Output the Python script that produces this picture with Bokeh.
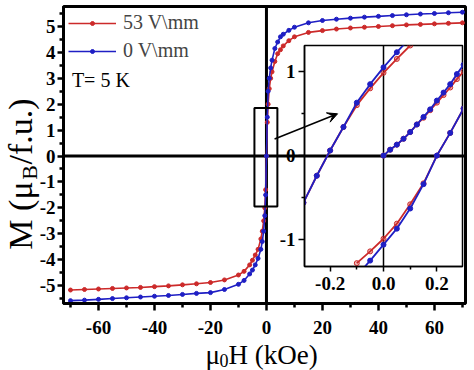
import math
from bokeh.plotting import figure
from bokeh.models import (Range1d, FixedTicker, CustomJSTickFormatter, Span, BoxAnnotation,
                          Arrow, VeeHead, Legend, LegendItem, Label)
from bokeh.embed import file_html
from bokeh.resources import INLINE

# ---------------- data ----------------
field_main = [-70, -65, -60, -55, -50, -45, -40, -35, -30, -25, -20, -15, -10, -8, -6, -5, -4, -3, -2,
              -1.5, -1, -0.6, -0.3, 0, 0.3, 0.6, 1, 1.5, 2, 3, 4, 5, 6, 8, 10, 15, 20, 25, 30, 35,
              40, 45, 50, 55, 60, 65, 70]
m_red_main = [-5.17, -5.15, -5.13, -5.11, -5.09, -5.07, -5.04, -5.01, -4.97, -4.93, -4.88, -4.78,
              -4.59, -4.45, -4.2, -4.02, -3.82, -3.6, -3.2, -2.9, -2.5, -2.0, -1.3, 0.0, 1.3, 2.0,
              2.6, 3.0, 3.25, 3.65, 3.95, 4.1, 4.25, 4.45, 4.6, 4.77, 4.84, 4.9, 4.94, 4.97, 5.0,
              5.03, 5.06, 5.08, 5.1, 5.12, 5.14]
m_blue_main = [-5.58, -5.56, -5.53, -5.5, -5.47, -5.44, -5.41, -5.38, -5.34, -5.3, -5.27, -5.15,
               -4.95, -4.8, -4.55, -4.4, -4.2, -3.95, -3.6, -3.3, -2.9, -2.3, -1.5, 0.0, 1.5, 2.5,
               3.0, 3.4, 3.7, 4.15, 4.4, 4.6, 4.7, 4.85, 4.97, 5.14, 5.23, 5.28, 5.32, 5.36, 5.39,
               5.42, 5.45, 5.48, 5.5, 5.53, 5.55]

# inset (low-field hysteresis)
field_desc = [0.1, 0.05, 0.0, -0.05, -0.1, -0.15, -0.2, -0.25, -0.3]
m_blue_desc = [1.40, 1.23, 1.05, 0.85, 0.63, 0.34, 0.06, -0.24, -0.56]
m_red_desc = [1.31, 1.15, 0.985, 0.80, 0.60, 0.34, 0.06, -0.24, -0.56]
field_asc = [-0.1, -0.05, 0.0, 0.05, 0.1, 0.15, 0.2, 0.25, 0.3]
m_blue_asc = [-1.43, -1.25, -1.06, -0.87, -0.63, -0.34, 0.0, 0.27, 0.56]
m_red_asc = [-1.28, -1.14, -0.99, -0.81, -0.58, -0.33, 0.0, 0.27, 0.56]
field_virgin = [0, 0.025, 0.05, 0.075, 0.1, 0.125, 0.15, 0.175, 0.2, 0.225, 0.25, 0.275, 0.3]
m_blue_virgin = [0, 0.07, 0.13, 0.2, 0.28, 0.37, 0.46, 0.55, 0.655, 0.75, 0.85, 0.97, 1.08]
m_red_virgin = [0, 0.07, 0.13, 0.2, 0.28, 0.37, 0.45, 0.54, 0.63, 0.72, 0.81, 0.91, 1.0]

series_labels = ["53 V\\mm", "0 V\\mm"]
temp_label = "T= 5 K"

main_x_ticks = [-60, -40, -20, 0, 20, 40, 60]
main_x_minor = [-70, -50, -30, -10, 10, 30, 50, 70]
main_y_ticks = [-5, -4, -3, -2, -1, 0, 1, 2, 3, 4, 5]
main_y_minor = [-5.5, -4.5, -3.5, -2.5, -1.5, -0.5, 0.5, 1.5, 2.5, 3.5, 4.5, 5.5]
inset_x_ticks = [-0.2, 0.0, 0.2]
inset_x_minor = [-0.3, -0.1, 0.1, 0.3]
inset_y_ticks = [-1, 0, 1]
inset_y_minor = [-0.5, 0.5]

# zoom box and arrow (data units of the main plot)
zoom_box = dict(left=-4.3, right=3.9, bottom=-1.95, top=1.85)
arrow_from = (2.9, 0.66)
arrow_to = (25.4, 1.63)

RED = "#cc2a2a"
BLUE = "#1f1fc4"
SERIF = "Liberation Serif"

# ---------------- main figure ----------------
p = figure(width=474, height=370, x_range=Range1d(-72.5, 71.1), y_range=Range1d(-5.69, 5.77),
           output_backend="svg", toolbar_location=None,
           min_border_left=63, min_border_right=9, min_border_top=6, min_border_bottom=67)
p.grid.visible = False
p.outline_line_color = "black"
p.outline_line_width = 3
p.background_fill_color = "white"
p.border_fill_color = "white"

def style_axis(ax, ticks, minor, code, lw, tick_out, minor_out, size, tw):
    ax.ticker = FixedTicker(ticks=ticks, minor_ticks=minor)
    ax.formatter = CustomJSTickFormatter(code=code)
    ax.axis_line_width = lw
    ax.major_tick_line_width = tw
    ax.minor_tick_line_width = tw
    ax.major_tick_in = 0
    ax.major_tick_out = tick_out
    ax.minor_tick_in = 0
    ax.minor_tick_out = minor_out
    ax.major_label_text_font = SERIF
    ax.major_label_text_font_style = "bold"
    ax.major_label_text_font_size = size
    ax.major_label_text_color = "black"
    ax.axis_label = None

style_axis(p.xaxis[0], main_x_ticks, main_x_minor, "return tick.toFixed(0);", 3, 7, 4, "19px", 2.5)
style_axis(p.yaxis[0], main_y_ticks, main_y_minor, "return tick.toFixed(0);", 3, 6, 4, "19px", 2.5)
p.xaxis.major_label_standoff = 10
p.yaxis.major_label_standoff = 2

p.add_layout(Span(location=0, dimension="height", line_color="black", line_width=3, level="underlay"))
p.add_layout(Span(location=0, dimension="width", line_color="black", line_width=3, level="underlay"))

lr = p.line(field_main, m_red_main, line_color=RED, line_width=1.6)
sr = p.scatter(field_main, m_red_main, size=4, color=RED)
lb = p.line(field_main, m_blue_main, line_color=BLUE, line_width=1.6)
sb = p.scatter(field_main, m_blue_main, size=4, color=BLUE)

p.add_layout(BoxAnnotation(fill_alpha=0, line_color="black", line_alpha=1, line_width=2, **zoom_box))
p.add_layout(Arrow(end=VeeHead(size=10, fill_color="black", line_color="black", line_width=1),
                   x_start=arrow_from[0], y_start=arrow_from[1],
                   x_end=arrow_to[0], y_end=arrow_to[1], line_width=1.5, line_color="black"))

legend = Legend(items=[LegendItem(label=series_labels[0], renderers=[lr, sr]),
                       LegendItem(label=series_labels[1], renderers=[lb, sb])],
                location="top_left", orientation="vertical")
legend.border_line_alpha = 0
legend.background_fill_alpha = 0
legend.glyph_width = 48
legend.glyph_height = 10
legend.label_height = 20
legend.spacing = 5
legend.padding = 5
legend.margin = 0
legend.label_standoff = 7
legend.label_text_font = SERIF
legend.label_text_font_size = "20px"
p.add_layout(legend)

p.add_layout(Label(x=-69.5, y=2.92, text=temp_label, text_baseline="middle",
                   text_font=SERIF, text_font_size="20px", text_color="black"))

# ---------------- inset ----------------
q = figure(width=194, height=255, x_range=Range1d(-0.296, 0.296), y_range=Range1d(-1.32, 1.31),
           output_backend="svg", toolbar_location=None,
           min_border_left=32, min_border_right=4, min_border_top=4, min_border_bottom=30)
q.grid.visible = False
q.outline_line_color = "black"
q.outline_line_width = 1.5
q.background_fill_alpha = 0
q.border_fill_alpha = 0
style_axis(q.xaxis[0], inset_x_ticks, inset_x_minor, "return tick.toFixed(1);", 1.5, 5, 3, "19px", 1.5)
style_axis(q.yaxis[0], inset_y_ticks, inset_y_minor, "return tick.toFixed(0);", 1.5, 6, 3, "19px", 1.5)
q.xaxis.major_label_standoff = 5
q.yaxis.major_label_standoff = 3
q.add_layout(Span(location=0, dimension="height", line_color="black", line_width=1.5, level="underlay"))

for xs, ys in [(field_desc, m_red_desc), (field_asc, m_red_asc), (field_virgin, m_red_virgin)]:
    q.line(xs, ys, line_color=RED, line_width=1.8)
    q.scatter(xs, ys, size=5, line_color=RED, fill_color=RED, fill_alpha=0.35)
for xs, ys in [(field_desc, m_blue_desc), (field_asc, m_blue_asc), (field_virgin, m_blue_virgin)]:
    q.line(xs, ys, line_color=BLUE, line_width=1.8)
    q.scatter(xs, ys, size=5, color=BLUE)

q.styles = {"position": "absolute", "left": "272px", "top": "41px"}

# ---------------- overlay for axis titles with subscripts (pixel coordinates) ----------------
r = figure(width=474, height=370, x_range=Range1d(0, 474), y_range=Range1d(370, 0),
           output_backend="svg", toolbar_location=None, x_axis_location=None, y_axis_location=None,
           min_border=0)
r.grid.visible = False
r.outline_line_color = None
r.background_fill_alpha = 0
r.border_fill_alpha = 0

def lab(text, x, y, size, angle=0.0, align="left", baseline="alphabetic"):
    r.add_layout(Label(x=x, y=y, text=text, angle=angle,
                       text_font=SERIF, text_font_size=size, text_color="black",
                       text_baseline=baseline, text_align=align))

lab("μ", 205, 354, "27px")
lab("0", 219, 360, "18px")
lab("H (kOe)", 228, 354, "27px")

a = math.pi / 2
lab("M (μ", 20, 215, "34px", a, "center", "middle")
lab("B", 29, 172, "22px", a, "center", "middle")
lab("/f.u.)", 20, 131, "34px", a, "center", "middle")

r.styles = {"position": "absolute", "left": "0px", "top": "0px"}

open("out.html", "w").write(file_html([p, q, r], INLINE))
